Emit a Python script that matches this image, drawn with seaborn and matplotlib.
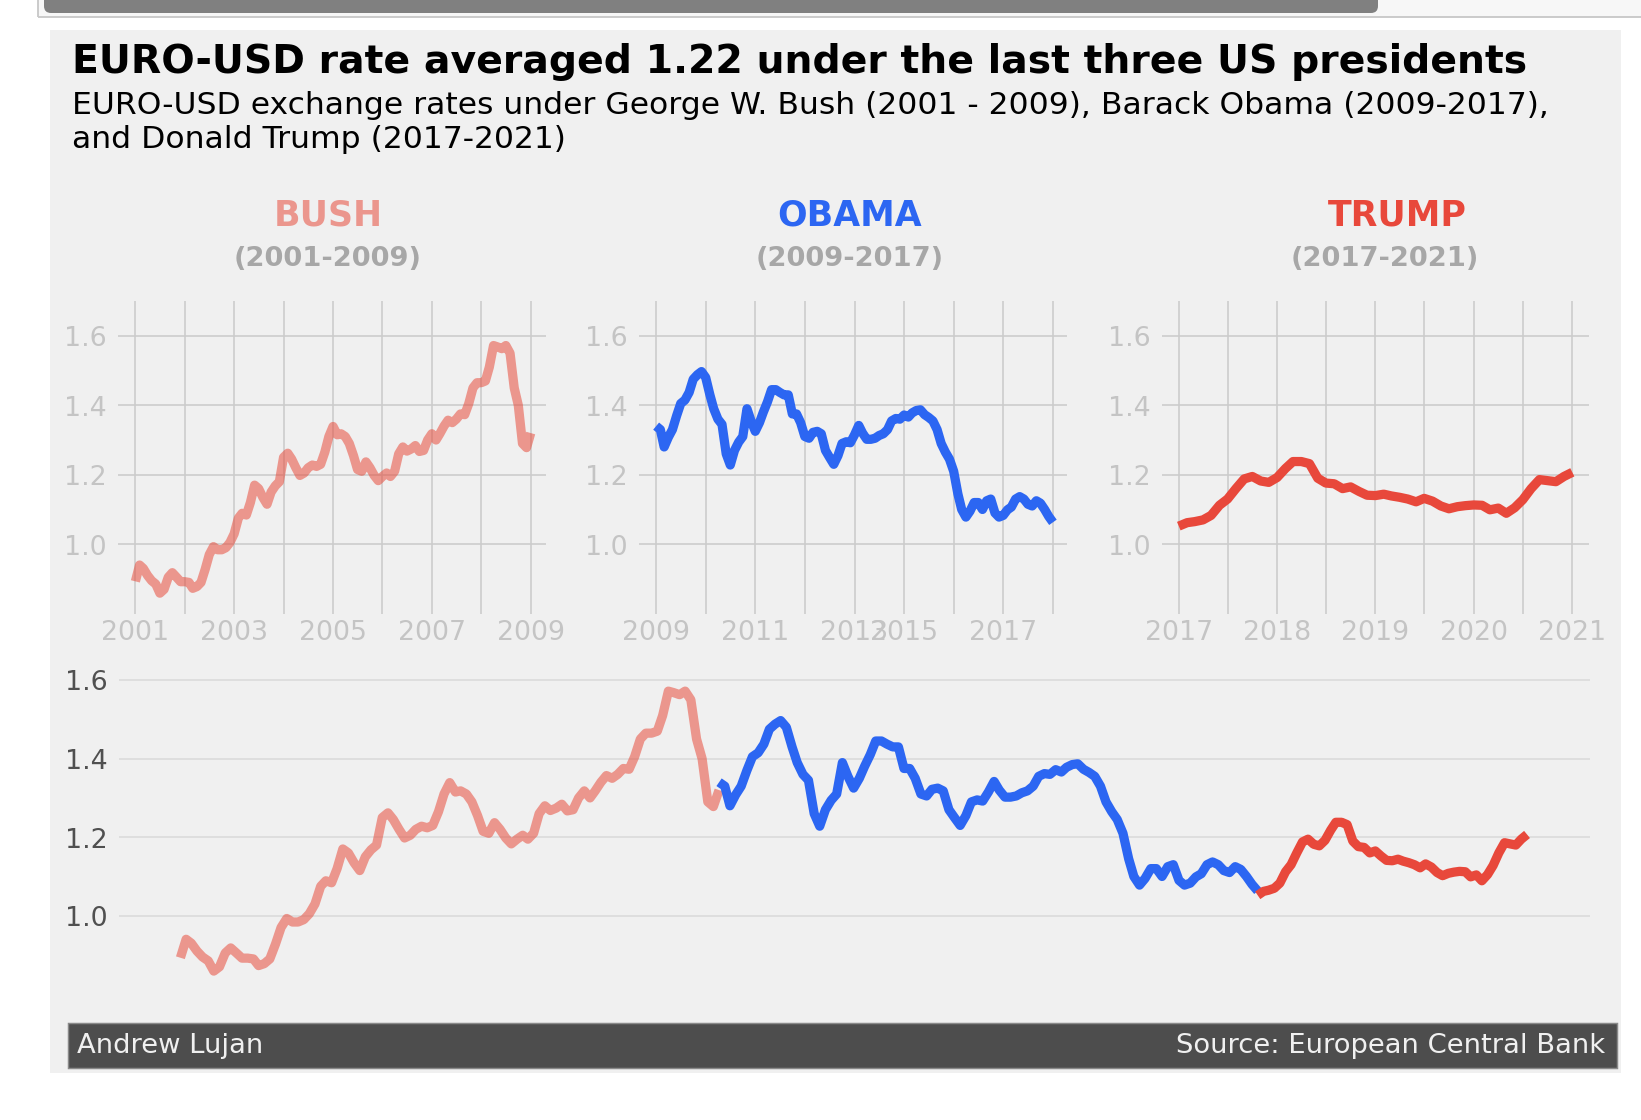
import pandas as pd
import matplotlib
matplotlib.use("Agg")
import matplotlib.pyplot as plt
import seaborn as sns
from matplotlib.patches import Rectangle, FancyBboxPatch
from matplotlib.lines import Line2D
from matplotlib.transforms import IdentityTransform

plt.style.use('fivethirtyeight')

# 30-day mean EURO-USD rate, one value per month
bush_rate = [0.893, 0.94, 0.93, 0.91, 0.895, 0.885, 0.859, 0.87, 0.905, 0.918, 0.905, 0.892,
             0.892, 0.89, 0.873, 0.878, 0.89, 0.928, 0.97, 0.993, 0.984, 0.984, 0.99, 1.005,
             1.03, 1.075, 1.089, 1.084, 1.12, 1.17, 1.16, 1.135, 1.115, 1.15, 1.168, 1.18,
             1.25, 1.262, 1.245, 1.22, 1.198, 1.205, 1.22, 1.228, 1.224, 1.23, 1.265, 1.31,
             1.339, 1.315, 1.318, 1.31, 1.29, 1.255, 1.215, 1.21, 1.237, 1.22, 1.198, 1.183,
             1.195, 1.205, 1.195, 1.21, 1.26, 1.28, 1.268, 1.274, 1.284, 1.267, 1.27, 1.30,
             1.318, 1.30, 1.318, 1.34, 1.357, 1.35, 1.36, 1.375, 1.373, 1.405, 1.45, 1.465,
             1.465, 1.47, 1.51, 1.572, 1.568, 1.563, 1.572, 1.55, 1.45, 1.40, 1.29, 1.278,
             1.32]
obama_rate = [1.34, 1.33, 1.28, 1.308, 1.33, 1.37, 1.405, 1.415, 1.437, 1.475, 1.488, 1.497,
              1.48, 1.43, 1.39, 1.36, 1.345, 1.26, 1.228, 1.27, 1.294, 1.31, 1.39, 1.355,
              1.325, 1.35, 1.38, 1.41, 1.445, 1.445, 1.437, 1.43, 1.43, 1.375, 1.375, 1.35,
              1.31, 1.305, 1.322, 1.325, 1.318, 1.27, 1.25, 1.23, 1.255, 1.29, 1.295, 1.292,
              1.315, 1.342, 1.32, 1.302, 1.302, 1.305, 1.313, 1.318, 1.33, 1.355, 1.362, 1.36,
              1.372, 1.366, 1.378, 1.385, 1.387, 1.373, 1.365, 1.355, 1.33, 1.29, 1.265, 1.245,
              1.21, 1.145, 1.10, 1.078, 1.095, 1.12, 1.12, 1.10, 1.125, 1.13, 1.09, 1.078,
              1.083, 1.099, 1.107, 1.13, 1.137, 1.13, 1.115, 1.11, 1.125, 1.118, 1.10, 1.08,
              1.063]
trump_rate = [1.052, 1.062, 1.065, 1.07, 1.083, 1.112, 1.13, 1.16, 1.188, 1.195, 1.182, 1.178,
              1.192, 1.218, 1.238, 1.238, 1.232, 1.19, 1.176, 1.174, 1.16, 1.165, 1.152, 1.141,
              1.14, 1.144, 1.139, 1.135, 1.13, 1.122, 1.132, 1.124, 1.11, 1.102, 1.108, 1.111,
              1.113, 1.112, 1.099, 1.104, 1.089, 1.105, 1.128, 1.16, 1.186, 1.183, 1.18, 1.195,
              1.207]

bush_dates = pd.date_range('2001-01-01', periods=len(bush_rate), freq='MS')
obama_dates = pd.date_range('2009-01-01', periods=len(obama_rate), freq='MS')
trump_dates = pd.date_range('2017-01-01', periods=len(trump_rate), freq='MS')

bush_ticks = ['2001', '', '2003', '', '2005', '', '2007', '', '2009']
obama_ticks = ['2009', '', '2011', '', '2013', '2015', '', '2017', '']
trump_ticks = ['2017', '', '2018', '', '2019', '', '2020', '', '2021']

BUSH_C, BUSH_A = '#e74c3c', 0.55
OBAMA_C = '#2c66f2'
TRUMP_C = '#e8483b'
LW = 5

W, H = 1641, 1120
fig = plt.figure(figsize=((W + 0.3) / 133, (H + 0.3) / 133), dpi=133, facecolor='white')


def box(left, top, right, bottom):
    # pixel box (from top-left) -> figure fraction
    return [left / W, 1 - bottom / H, (right - left) / W, (bottom - top) / H]


def fx(x):
    return x / W


def fy(y):
    return 1 - y / H


# notebook scrollbar strip + figure background
fig.patches.append(Rectangle((38, H - 17), W - 38, 17, transform=IdentityTransform(),
                             facecolor='#f7f7f7', edgecolor='none', zorder=-20))
fig.patches.append(FancyBboxPatch((44, H - 13), 1334, 25, boxstyle='round,pad=0,rounding_size=7',
                                  transform=IdentityTransform(), facecolor='#808080',
                                  edgecolor='none', zorder=-19))
fig.lines.append(Line2D([38, W], [H - 17, H - 17], transform=IdentityTransform(),
                        color='#c8c8c8', linewidth=1.0))
fig.lines.append(Line2D([38, 38], [H - 17, H], transform=IdentityTransform(),
                        color='#c8c8c8', linewidth=1.0))
fig.patches.append(Rectangle((fx(50), fy(1073)), (1621 - 50) / W, (1073 - 30) / H,
                             transform=fig.transFigure, facecolor='#f0f0f0',
                             edgecolor='none', zorder=-10))

ax1 = fig.add_axes(box(117.5, 301.3, 546.2, 613.8))
ax2 = fig.add_axes(box(638.5, 301.3, 1067, 613.8))
ax3 = fig.add_axes(box(1161.6, 301.3, 1589, 613.8))
ax4 = fig.add_axes(box(119, 641, 1589.6, 994.3))

top_panels = [
    (ax1, bush_dates, bush_rate, BUSH_C, BUSH_A, pd.date_range('2001-01-01', '2009-01-01', freq='YS'),
     bush_ticks, 132, 115),
    (ax2, obama_dates, obama_rate, OBAMA_C, 1.0, pd.date_range('2009-01-01', '2017-01-01', freq='YS'),
     obama_ticks, 129, 105),
    (ax3, trump_dates, trump_rate, TRUMP_C, 1.0, pd.date_range('2017-01-01', '2021-01-01', freq='6MS'),
     trump_ticks, 63, 63),
]

for ax, dates, rate, color, alpha, ticks, labels, pad_l, pad_r in top_panels:
    sns.lineplot(x=dates, y=rate, ax=ax, color=color, alpha=alpha, linewidth=LW)
    ax.set_xticks(ticks)
    ax.set_xticklabels(labels)
    ax.set_xlim(dates[0] - pd.Timedelta(days=pad_l), dates[-1] + pd.Timedelta(days=pad_r))
    ax.grid(True, color='#cbcbcb', alpha=0.85, linewidth=1)
    ax.tick_params(axis='both', colors='#c4c4c4', labelsize=14.5)
    ax.tick_params(axis='y', pad=6)

# all three terms on one axis
sns.lineplot(x=bush_dates, y=bush_rate, ax=ax4, color=BUSH_C, alpha=BUSH_A, linewidth=LW)
sns.lineplot(x=obama_dates, y=obama_rate, ax=ax4, color=OBAMA_C, linewidth=LW)
sns.lineplot(x=trump_dates, y=trump_rate, ax=ax4, color=TRUMP_C, linewidth=LW)
ax4.set_xlim(bush_dates[0] - pd.Timedelta(days=333), trump_dates[-1] + pd.Timedelta(days=341))
ax4.set_xticks([])
ax4.grid(True, axis='y', color='#cbcbcb', alpha=0.5, linewidth=1)
ax4.tick_params(axis='y', colors='#505050', labelsize=14.5, pad=6)

for ax in [ax1, ax2, ax3, ax4]:
    ax.set_ylim(0.8, 1.7)
    ax.set_yticks([1.0, 1.2, 1.4, 1.6])
    ax.set_yticklabels(['1.0', '1.2', '1.4', '1.6'])
    ax.set_xlabel('')
    ax.set_ylabel('')
    ax.set_facecolor('#f0f0f0')
    for s in ax.spines.values():
        s.set_visible(False)

# president headers
fig.text(fx(328), fy(225), 'BUSH', fontsize=18.8, weight='bold', color=BUSH_C, alpha=BUSH_A,
         ha='center', va='baseline')
fig.text(fx(328), fy(266), '(2001-2009)', fontsize=14.8, weight='bold', color='black', alpha=0.3,
         ha='center', va='baseline')
fig.text(fx(849), fy(225), 'OBAMA', fontsize=18.8, weight='bold', color=OBAMA_C,
         ha='center', va='baseline')
fig.text(fx(850), fy(266), '(2009-2017)', fontsize=14.8, weight='bold', color='black', alpha=0.3,
         ha='center', va='baseline')
fig.text(fx(1397), fy(225), 'TRUMP', fontsize=18.8, weight='bold', color=TRUMP_C,
         ha='center', va='baseline')
fig.text(fx(1385), fy(266), '(2017-2021)', fontsize=14.8, weight='bold', color='black', alpha=0.3,
         ha='center', va='baseline')

# title block
fig.text(fx(72), fy(73), 'EURO-USD rate averaged 1.22 under the last three US presidents',
         fontsize=21.3, weight='bold', color='black', ha='left', va='baseline')
fig.text(fx(72), fy(114), 'EURO-USD exchange rates under George W. Bush (2001 - 2009), '
         'Barack Obama (2009-2017),', fontsize=17, color='black', ha='left', va='baseline')
fig.text(fx(72), fy(148), 'and Donald Trump (2017-2021)', fontsize=17, color='black',
         ha='left', va='baseline')

# signature bar
fig.patches.append(Rectangle((fx(68), fy(1068)), (1617 - 68) / W, 45 / H, transform=fig.transFigure,
                             facecolor='#4d4d4d', edgecolor='#8a8a8a', linewidth=0.8, zorder=5))
fig.text(fx(77), fy(1053), 'Andrew Lujan', fontsize=14.8, color='#f0f0f0',
         ha='left', va='baseline', zorder=6)
fig.text(fx(1605), fy(1053), 'Source: European Central Bank', fontsize=14.8, color='#f0f0f0',
         ha='right', va='baseline', zorder=6)

fig.savefig('out.png', dpi=133, facecolor='white')
